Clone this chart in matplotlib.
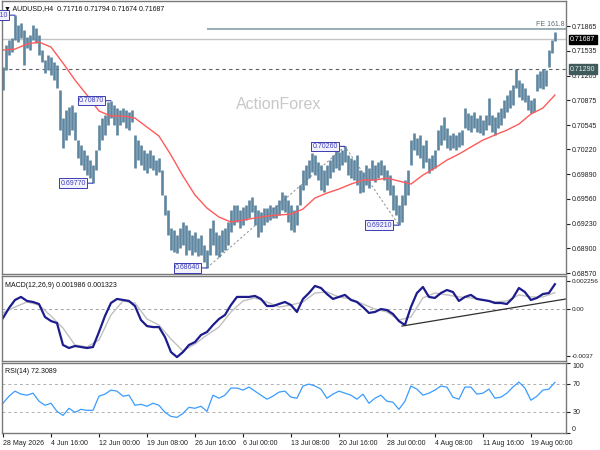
import matplotlib
matplotlib.use("Agg")
import matplotlib.pyplot as plt
import matplotlib.transforms as mtransforms
import numpy as np

plt.rcParams['font.family'] = ['Liberation Sans', 'DejaVu Sans']

# AUDUSD H4, each entry = two 4h bars (high / low)
highs = [0.7132, 0.7161, 0.7168, 0.7171, 0.7201, 0.7188, 0.7191, 0.7181, 0.7172, 0.7175,
         0.7188, 0.7184, 0.7175, 0.7155, 0.7141, 0.7148, 0.7145, 0.7139, 0.7135, 0.7101,
         0.7064, 0.7075, 0.7079, 0.7081, 0.7072, 0.7035, 0.7028, 0.7021, 0.7015, 0.7008,
         0.7001, 0.7021, 0.7055, 0.7064, 0.7068, 0.7085, 0.7087, 0.7081, 0.7077, 0.7075,
         0.7077, 0.7075, 0.7072, 0.7075, 0.7041, 0.7035, 0.7028, 0.7021, 0.7017, 0.7021,
         0.7015, 0.7008, 0.7011, 0.6995, 0.6961, 0.6941, 0.6917, 0.6915, 0.6908, 0.6917,
         0.6925, 0.6921, 0.6915, 0.6908, 0.6912, 0.6904, 0.6908, 0.6895, 0.6888, 0.6917,
         0.6928, 0.6912, 0.6908, 0.6915, 0.6917, 0.6925, 0.6941, 0.6948, 0.6948, 0.6941,
         0.6945, 0.6948, 0.6955, 0.6959, 0.6948, 0.6941, 0.6939, 0.6944, 0.6944, 0.6948,
         0.6945, 0.6948, 0.6955, 0.6965, 0.6961, 0.6955, 0.6948, 0.6941, 0.6948, 0.6975,
         0.6995, 0.7001, 0.7008, 0.7017, 0.7015, 0.7005, 0.7001, 0.6995, 0.7001, 0.7008,
         0.7015, 0.7021, 0.7019, 0.7021, 0.7026, 0.7015, 0.7011, 0.7008, 0.7015, 0.6995,
         0.6992, 0.7001, 0.6997, 0.7008, 0.7001, 0.7005, 0.7008, 0.7001, 0.6995, 0.6988,
         0.6975, 0.6961, 0.6948, 0.6961, 0.6981, 0.6995, 0.7035, 0.7044, 0.7037, 0.7041,
         0.7028, 0.7035, 0.7011, 0.7015, 0.7021, 0.7048, 0.7055, 0.7065, 0.7051, 0.7041,
         0.7044, 0.7041, 0.7045, 0.7048, 0.7077, 0.7071, 0.7068, 0.7072, 0.7064, 0.7068,
         0.7061, 0.7068, 0.7091, 0.7068, 0.7065, 0.7072, 0.7077, 0.7088, 0.7095, 0.7101,
         0.7108, 0.7129, 0.7115, 0.7111, 0.7104, 0.7095, 0.7088, 0.7091, 0.7122, 0.7127,
         0.7129, 0.7128, 0.7155, 0.7168, 0.7179]
lows = [0.7101, 0.7128, 0.7148, 0.7152, 0.7168, 0.7165, 0.7171, 0.7135, 0.7157, 0.7155,
        0.7168, 0.7164, 0.7148, 0.7139, 0.7124, 0.7128, 0.7121, 0.7115, 0.7104, 0.7048,
        0.7024, 0.7035, 0.7041, 0.7048, 0.7035, 0.7011, 0.7001, 0.6995, 0.6988, 0.6984,
        0.6977, 0.6995, 0.7021, 0.7035, 0.7041, 0.7055, 0.7064, 0.7055, 0.7041, 0.7055,
        0.7059, 0.7051, 0.7048, 0.7059, 0.6997, 0.7008, 0.7001, 0.6995, 0.6991, 0.6997,
        0.6995, 0.6988, 0.6992, 0.6961, 0.6935, 0.6908, 0.6888, 0.6885, 0.6884, 0.6891,
        0.6895, 0.6881, 0.6888, 0.6881, 0.6885, 0.6880, 0.6881, 0.6872, 0.6864, 0.6881,
        0.6895, 0.6881, 0.6879, 0.6885, 0.6888, 0.6895, 0.6912, 0.6921, 0.6925, 0.6917,
        0.6921, 0.6928, 0.6931, 0.6939, 0.6921, 0.6905, 0.6912, 0.6921, 0.6925, 0.6928,
        0.6931, 0.6931, 0.6935, 0.6941, 0.6939, 0.6925, 0.6915, 0.6912, 0.6921, 0.6948,
        0.6968, 0.6975, 0.6984, 0.6992, 0.6988, 0.6981, 0.6968, 0.6965, 0.6975, 0.6984,
        0.6992, 0.6997, 0.6995, 0.7001, 0.7005, 0.6988, 0.6984, 0.6981, 0.6975, 0.6964,
        0.6965, 0.6975, 0.6971, 0.6981, 0.6979, 0.6984, 0.6988, 0.6981, 0.6968, 0.6961,
        0.6941, 0.6935, 0.6921, 0.6925, 0.6948, 0.6961, 0.7001, 0.7021, 0.7015, 0.7011,
        0.6997, 0.7005, 0.6991, 0.6995, 0.6997, 0.7021, 0.7028, 0.7035, 0.7024, 0.7021,
        0.7024, 0.7021, 0.7025, 0.7028, 0.7051, 0.7048, 0.7045, 0.7051, 0.7045, 0.7044,
        0.7041, 0.7048, 0.7055, 0.7045, 0.7041, 0.7051, 0.7055, 0.7064, 0.7072, 0.7077,
        0.7081, 0.7104, 0.7092, 0.7088, 0.7085, 0.7075, 0.7071, 0.7072, 0.7100, 0.7104,
        0.7102, 0.7106, 0.7132, 0.7150, 0.7167]

# moving average, one value every 4 entries
ma = [0.71545, 0.71558, 0.71625, 0.71652, 0.71585, 0.71372, 0.71145, 0.70945, 0.70732, 0.70665,
      0.70665, 0.70638, 0.70518, 0.70398, 0.70145, 0.69865, 0.69612, 0.69438, 0.69318, 0.69252,
      0.69278, 0.69305, 0.69332, 0.69345, 0.69358, 0.69425, 0.69572, 0.69638, 0.69692, 0.69758,
      0.69812, 0.69812, 0.69838, 0.69798, 0.69758, 0.69878, 0.69972, 0.70078, 0.70158, 0.70252,
      0.70345, 0.70412, 0.70478, 0.70558, 0.70692, 0.70772, 0.70945]

# MACD main (every 2 entries) and signal (every 4 entries)
macd = [-0.00069, 0.00010, 0.00074, 0.00098, 0.00066, 0.00058, 0.00042, -0.00061, -0.00093, -0.00109,
        -0.00283, -0.00307, -0.00291, -0.00299, -0.00307, -0.00299, -0.00180, -0.00053, 0.00050, 0.00082,
        0.00074, 0.00066, 0.00026, -0.00085, -0.00133, -0.00141, -0.00141, -0.00220, -0.00339, -0.00379,
        -0.00339, -0.00283, -0.00260, -0.00204, -0.00180, -0.00125, -0.00077, -0.00045, 0.00034, 0.00098,
        0.00098, 0.00098, 0.00106, 0.00082, 0.00026, 0.00026, 0.00042, 0.00058, 0.00034, -0.00021,
        0.00082, 0.00129, 0.00185, 0.00169, 0.00121, 0.00082, 0.00098, 0.00114, 0.00074, 0.00058,
        0.00018, -0.00029, -0.00021, 0.00002, -0.00006, -0.00037, -0.00093, -0.00125, 0.00018, 0.00129,
        0.00177, 0.00098, 0.00090, 0.00129, 0.00153, 0.00137, 0.00066, 0.00098, 0.00114, 0.00082,
        0.00074, 0.00066, 0.00050, 0.00050, 0.00042, 0.00090, 0.00169, 0.00137, 0.00074, 0.00090,
        0.00121, 0.00129, 0.00199]
signal = [-0.00029, 0.00018, 0.00058, 0.00034, -0.00053, -0.00149, -0.00283, -0.00299, -0.00244, -0.00045,
          0.00066, 0.00050, -0.00077, -0.00125, -0.00236, -0.00331, -0.00275, -0.00204, -0.00141, -0.00021,
          0.00066, 0.00090, 0.00058, 0.00018, 0.00034, 0.00058, 0.00129, 0.00137, 0.00098, 0.00082,
          0.00042, 0.00002, -0.00021, -0.00085, -0.00061, 0.00090, 0.00129, 0.00114, 0.00098, 0.00090,
          0.00074, 0.00058, 0.00066, 0.00114, 0.00098, 0.00098, 0.00132]

# RSI(14), every 2 entries
rsi = [42.5, 52.6, 59.8, 55.5, 54.0, 56.9, 45.4, 39.6, 42.5, 30.9,
       25.1, 35.3, 29.5, 33.8, 32.4, 32.4, 52.6, 55.5, 61.3, 59.8,
       52.6, 54.0, 39.6, 41.0, 38.2, 42.5, 39.6, 29.5, 23.7, 22.3,
       28.0, 36.7, 35.3, 38.2, 30.9, 54.0, 49.7, 54.0, 64.2, 64.2,
       61.3, 65.6, 59.8, 54.0, 48.3, 52.6, 58.4, 59.8, 51.2, 49.7,
       67.1, 69.9, 67.1, 62.7, 49.7, 55.5, 59.8, 56.9, 54.0, 48.3,
       55.5, 42.5, 49.7, 54.0, 45.4, 44.0, 33.8, 45.4, 67.1, 62.7,
       54.0, 56.9, 61.3, 67.1, 65.6, 51.2, 48.3, 65.6, 65.6, 55.5,
       56.9, 62.7, 49.7, 51.2, 56.9, 65.6, 72.8, 64.2, 46.8, 52.6,
       61.3, 62.7, 72.3]

# pivots with price labels
piv_x = [4, 36, 30, 68, 114, 132]
piv_y = [0.7201, 0.7087, 0.6977, 0.6864, 0.7026, 0.6921]
piv_txt = ['0.72010', '0.70870', '0.69770', '0.68640', '0.70260', '0.69210']
zz = [3, 4, 5]  # pivots used by the FE dotted zigzag
fe_level = 0.71831
level_last = 0.71687
level_res = 0.71290
trend_x = [133, 187.7]
trend_y = [-0.00133, 0.00082]

price_ticks = [0.71865, 0.71535, 0.71205, 0.70875, 0.70545, 0.70220,
               0.69890, 0.69560, 0.69230, 0.68900, 0.68570]
date_pos = [0, 16, 32, 48, 64, 80, 96, 112, 128, 144, 160, 176]
date_txt = ['28 May 2026', '4 Jun 16:00', '12 Jun 00:00', '19 Jun 08:00', '26 Jun 16:00',
            '6 Jul 00:00', '13 Jul 08:00', '20 Jul 16:00', '28 Jul 00:00', '4 Aug 08:00',
            '11 Aug 16:00', '19 Aug 00:00']

fs = 5.0
x = np.arange(len(highs))
x_ma = np.arange(len(ma)) * 4
x_macd = np.arange(len(macd)) * 2
x_sig = np.arange(len(signal)) * 4
x_rsi = np.arange(len(rsi)) * 2
xl = (-0.33, 187.7)

fig = plt.figure(figsize=(6, 4.5), dpi=100)
ax = fig.add_axes([2/600, 1-274/450, 564/600, 273/450])
axm = fig.add_axes([2/600, 1-361/450, 564/600, 85/450])
axr = fig.add_axes([2/600, 1-433/450, 564/600, 70/450])

for a in (ax, axm, axr):
    a.set_xlim(*xl)
    for s in a.spines.values():
        s.set_color('#7a7a7a')
        s.set_linewidth(1.0)
    a.yaxis.tick_right()
    a.tick_params(axis='y', labelsize=fs, length=3, pad=1.5, colors='#202020')
    a.tick_params(axis='x', length=0, labelbottom=False)

# ---- price panel
ax.set_ylim(0.68559, 0.72199)
ax.set_yticks(price_ticks)
ax.set_yticklabels([f'{v:.5f}' for v in price_ticks])
ax.text(0.49, 0.62, 'ActionForex', transform=ax.transAxes, size=11.5,
        color='#c8c8c8', ha='center', va='center')
ax.axhline(level_last, color='#c4c4c4', lw=1)
ax.axhline(level_res, color='#606060', lw=0.8, ls=(0, (3, 3)))
ax.hlines(fe_level, piv_x[zz[0]], xl[1], color='#8aa0a8', lw=1.2)
ax.text(xl[1] - 0.6, fe_level + 0.0001, 'FE 161.8', ha='right', va='bottom',
        size=fs, color='#5a6c74')
ax.plot([piv_x[i] for i in zz], [piv_y[i] for i in zz], color='#9a9a9a',
        lw=0.8, ls=(0, (2, 2)))
ax.vlines(x, lows, highs, color='#5f86a0', lw=1.9)
ax.plot(x_ma, ma, color='#ff5a5a', lw=1)
for px_, py_, t in zip(piv_x, piv_y, piv_txt):
    ax.annotate(t, xy=(px_, py_), xytext=(-5, 0), textcoords='offset points',
                ha='right', va='center', size=fs, color='#4040b8',
                bbox=dict(boxstyle='square,pad=0.18', fc='#f2f2ff', ec='#3c3cb0', lw=0.7),
                arrowprops=dict(arrowstyle='-', color='#3c3cb0', lw=0.8,
                                shrinkA=0, shrinkB=0), annotation_clip=False)
ax.text(0.004, 0.985, '\u25bc AUDUSD,H4  0.71716 0.71794 0.71674 0.71687',
        transform=ax.transAxes, ha='left', va='top', size=fs, color='#101010')
tr = mtransforms.blended_transform_factory(ax.transAxes, ax.transData)
ax.text(1.007, level_last, f'{level_last:.5f}', transform=tr, size=fs, color='white',
        va='center', ha='left',
        bbox=dict(boxstyle='square,pad=0.2', fc='#000000', ec='#000000'))
ax.text(1.007, level_res, f'{level_res:.5f}', transform=tr, size=fs, color='#e8f0f0',
        va='center', ha='left',
        bbox=dict(boxstyle='square,pad=0.2', fc='#3e5a5a', ec='#3e5a5a'))

# ---- MACD panel
axm.set_ylim(-0.0041, 0.00264)
axm.axhline(0, color='#a0a0a0', lw=0.7, ls=(0, (3, 3)))
axm.plot(x_sig, signal, color='#c0c0c0', lw=1)
axm.plot(x_macd, macd, color='#1c1c8c', lw=1.6)
axm.plot(trend_x, trend_y, color='#303030', lw=0.9)
axm.set_yticks([0.002256, 0.0, -0.0037])
axm.set_yticklabels(['0.002256', '0.00', '-0.0037'])
axm.tick_params(axis='y', labelsize=4.6, pad=1)
axm.text(0.006, 0.93, 'MACD(12,26,9) 0.001986 0.001323', transform=axm.transAxes,
         ha='left', va='top', size=fs, color='#101010')

# ---- RSI panel
axr.set_ylim(0, 100)
axr.axhline(70, color='#b0b0b0', lw=0.7, ls=(0, (3, 3)))
axr.axhline(30, color='#b0b0b0', lw=0.7, ls=(0, (3, 3)))
axr.plot(x_rsi, rsi, color='#3a9cff', lw=0.9)
axr.set_yticks([100, 70, 30, 0])
axr.set_yticklabels(['100', '70', '30', '0'])
lbls = axr.get_yticklabels()
lbls[0].set_va('top')
lbls[-1].set_va('bottom')
axr.text(0.006, 0.93, 'RSI(14) 72.3089', transform=axr.transAxes,
         ha='left', va='top', size=fs, color='#101010')
axr.set_xticks(date_pos)
axr.set_xticklabels(date_txt, ha='left')
axr.tick_params(axis='x', length=3, pad=2, labelsize=fs, labelbottom=True, colors='#202020')

fig.savefig('out.png', dpi=100)
